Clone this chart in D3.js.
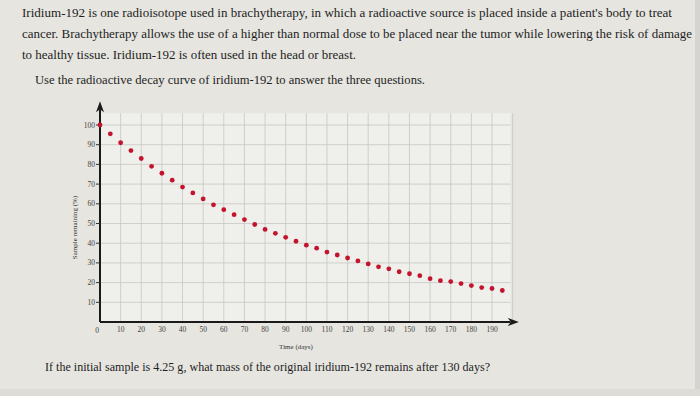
<!DOCTYPE html>
<html>
<head>
<meta charset="utf-8">
<script src="https://cdn.jsdelivr.net/npm/d3@7"></script>
<style>
  body { margin: 0; background: #e5e4df; }
  svg { display: block; }
</style>
</head>
<body>
<div id="chart"></div>
<script>
// Values
const days = d3.range(0, 200, 5);
const remaining = [100, 95.5, 91, 87, 83, 79, 75.5, 72, 68.5, 65.5,
  62.5, 59.5, 57, 54.5, 52, 49.5, 47, 45, 43, 41,
  39, 37.5, 35.5, 34, 32.5, 31, 29.5, 28, 27, 25.5,
  24.5, 23.5, 22, 21, 20.5, 19.5, 18.5, 17.5, 17, 16];
const xTicks = d3.range(10, 200, 10);
const yTicks = d3.range(10, 110, 10);

const introLines = [
  'Iridium-192 is one radioisotope used in brachytherapy, in which a radioactive source is placed inside a patient\'s body to treat',
  'cancer. Brachytherapy allows the use of a higher than normal dose to be placed near the tumor while lowering the risk of damage',
  'to healthy tissue. Iridium-192 is often used in the head or breast.'
];

const width = 700;
const height = 396;

const svg = d3.select('#chart')
  .append('svg')
  .attr('width', width)
  .attr('height', height);

svg.append('rect')
  .attr('width', width).attr('height', height)
  .attr('fill', '#e6e5e0');
svg.append('rect')
  .attr('x', 695).attr('width', 5).attr('height', height)
  .attr('fill', '#d4d4d0');
svg.append('rect')
  .attr('y', 389).attr('width', width).attr('height', 7)
  .attr('fill', '#dddcd7');

const textFont = 'Liberation Serif, serif';

// Paragraph text
const textWidths = [650, 670, 334];
svg.selectAll('.intro')
  .data(introLines)
  .join('text')
  .attr('class', 'intro')
  .attr('x', 22)
  .attr('y', (d, i) => 17 + i * 21)
  .attr('textLength', (d, i) => textWidths[i])
  .attr('lengthAdjust', 'spacingAndGlyphs')
  .attr('font-family', textFont)
  .attr('font-size', 12.6)
  .attr('fill', '#1e1e1e')
  .text((d) => d);

svg.append('text')
  .attr('x', 35).attr('y', 84)
  .attr('textLength', 390)
  .attr('lengthAdjust', 'spacingAndGlyphs')
  .attr('font-family', textFont)
  .attr('font-size', 13)
  .attr('fill', '#1e1e1e')
  .text('Use the radioactive decay curve of iridium-192 to answer the three questions.');

svg.append('text')
  .attr('x', 45).attr('y', 371)
  .attr('textLength', 445)
  .attr('lengthAdjust', 'spacingAndGlyphs')
  .attr('font-family', textFont)
  .attr('font-size', 13)
  .attr('fill', '#1e1e1e')
  .text('If the initial sample is 4.25 g, what mass of the original iridium-192 remains after 130 days?');

// Chart
const xScale = d3.scaleLinear().domain([0, 190]).range([100, 492]);
const yScale = d3.scaleLinear().domain([0, 100]).range([322, 125]);

const plot = svg.append('g');

plot.append('rect')
  .attr('x', xScale(0)).attr('y', yScale(106))
  .attr('width', xScale(199) - xScale(0))
  .attr('height', yScale(0) - yScale(106))
  .attr('fill', '#efefeb');

// Grid
plot.append('g')
  .selectAll('line')
  .data(d3.range(10, 210, 10))
  .join('line')
  .attr('x1', (d) => xScale(d)).attr('x2', (d) => xScale(d))
  .attr('y1', yScale(0)).attr('y2', yScale(106))
  .attr('stroke', '#c6c6c3')
  .attr('stroke-width', 0.8);

plot.append('g')
  .selectAll('line')
  .data(yTicks)
  .join('line')
  .attr('x1', xScale(0)).attr('x2', xScale(199))
  .attr('y1', (d) => yScale(d)).attr('y2', (d) => yScale(d))
  .attr('stroke', '#c6c6c3')
  .attr('stroke-width', 0.8);

// Axes
const axisColor = '#1a1a1a';
plot.append('line')
  .attr('x1', xScale(0)).attr('x2', xScale(199))
  .attr('y1', yScale(0)).attr('y2', yScale(0))
  .attr('stroke', axisColor).attr('stroke-width', 2);
plot.append('line')
  .attr('x1', xScale(0)).attr('x2', xScale(0))
  .attr('y1', yScale(0)).attr('y2', yScale(108))
  .attr('stroke', axisColor).attr('stroke-width', 2);

// Arrow heads
plot.append('path')
  .attr('d', `M${xScale(0)},${yScale(112)} l-4,11 l4,-3 l4,3 z`)
  .attr('fill', axisColor);
plot.append('path')
  .attr('d', `M${xScale(203)},${yScale(0)} l-11,-4 l3,4 l-3,4 z`)
  .attr('fill', axisColor);

// y ticks
const yAxis = plot.append('g');
yAxis.selectAll('line')
  .data(yTicks)
  .join('line')
  .attr('x1', xScale(0) - 4).attr('x2', xScale(0))
  .attr('y1', (d) => yScale(d)).attr('y2', (d) => yScale(d))
  .attr('stroke', '#333').attr('stroke-width', 1);
yAxis.selectAll('text')
  .data(yTicks)
  .join('text')
  .attr('x', xScale(0) - 5)
  .attr('y', (d) => yScale(d) + 2.5)
  .attr('text-anchor', 'end')
  .attr('font-family', textFont)
  .attr('font-size', 7.5)
  .attr('fill', '#444')
  .text((d) => d);

// x tick labels
plot.append('g')
  .selectAll('text')
  .data(xTicks)
  .join('text')
  .attr('x', (d) => xScale(d))
  .attr('y', yScale(0) + 10)
  .attr('text-anchor', 'middle')
  .attr('font-family', textFont)
  .attr('font-size', 7.5)
  .attr('fill', '#444')
  .text((d) => d);

plot.append('text')
  .attr('x', xScale(0) - 3).attr('y', yScale(0) + 11)
  .attr('text-anchor', 'middle')
  .attr('font-family', textFont)
  .attr('font-size', 7.5)
  .attr('fill', '#444')
  .text('0');

// Axis titles
plot.append('text')
  .attr('x', xScale(95)).attr('y', 349)
  .attr('text-anchor', 'middle')
  .attr('font-family', textFont)
  .attr('font-size', 7)
  .attr('fill', '#333')
  .text('Time (days)');

plot.append('text')
  .attr('transform', `translate(77, ${yScale(48)}) rotate(-90)`)
  .attr('text-anchor', 'middle')
  .attr('font-family', textFont)
  .attr('font-size', 7)
  .attr('fill', '#333')
  .text('Sample remaining (%)');

// Points
plot.append('g')
  .selectAll('circle')
  .data(days.map((d, i) => ({ day: d, value: remaining[i] })))
  .join('circle')
  .attr('cx', (d) => xScale(d.day))
  .attr('cy', (d) => yScale(d.value))
  .attr('r', 2.4)
  .attr('fill', '#c4142d');
</script>
</body>
</html>
